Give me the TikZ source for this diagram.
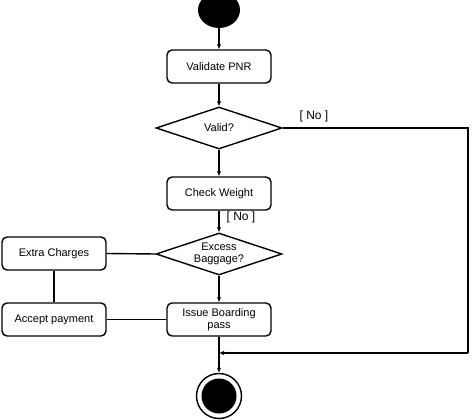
\documentclass[tikz,border=0pt]{standalone}
\usepackage{fontspec}
\setmainfont{Liberation Sans}
\usetikzlibrary{shapes.geometric,arrows.meta}
\begin{document}
\begin{tikzpicture}[x=1pt,y=-1pt,
  every node/.style={font=\fontsize{11}{13}\selectfont},
  stepbox/.style={draw,line width=1.4pt,rounded corners=5pt,minimum width=104pt,minimum height=33pt,inner sep=1pt,align=center},
  decision/.style={draw,line width=1.4pt,diamond,aspect=3,minimum width=126pt,minimum height=42pt,inner sep=0pt,align=center},
  flow/.style={line width=1.4pt,-{Latex[length=5pt,width=4.5pt]}},
  plain/.style={line width=1.4pt},
  guard/.style={inner sep=1pt,font=\fontsize{12}{14}\selectfont}]
\useasboundingbox (0,0) rectangle (474,420);
\clip (0,0) rectangle (474,420);
\fill (219,10) ellipse [x radius=21, y radius=18];
\coordinate (startb) at (219,28);
\node[stepbox] (pnr) at (219,66.5) {Validate PNR};
\node[decision] (valid) at (219,128) {Valid?};
\node[stepbox] (cw) at (219,193.5) {Check Weight};
\node[decision] (eb) at (219,254) {Excess\\[-1pt]Baggage?};
\node[stepbox] (ec) at (54,253.5) {Extra Charges};
\node[stepbox] (ap) at (54,319.5) {Accept payment};
\node[stepbox] (ib) at (219,319.5) {Issue Boarding\\[-1pt]pass};
\node[guard] (no1) at (314,116) {[ No ]};
\node[guard] (no2) at (241,217) {[ No ]};
\coordinate (c1) at (468,128);
\coordinate (c2) at (468,353);
\coordinate (j) at (219,353);
\node[circle,draw,line width=1.4pt,minimum size=45pt,inner sep=0pt] (endo) at (219,396) {};
\fill (endo.center) circle (17.5);
\draw[flow] (startb) -- (pnr.north);
\draw[flow] (pnr.south) -- (valid.north);
\draw[flow] (valid.south) -- (cw.north);
\draw[flow] (cw.south) -- (eb.north);
\draw[flow] (eb.south) -- (ib.north);
\draw[plain] (ec.east) -- (eb.west);
\draw[plain] (ec.south) -- (ap.north);
\draw[plain] (ap.east) -- (ib.west);
\draw[flow] (ib.south) -- (endo.north);
\draw[plain] (valid.east) -- (c1) -- (c2);
\draw[flow] (c2) -- (j);
\end{tikzpicture}
\end{document}
